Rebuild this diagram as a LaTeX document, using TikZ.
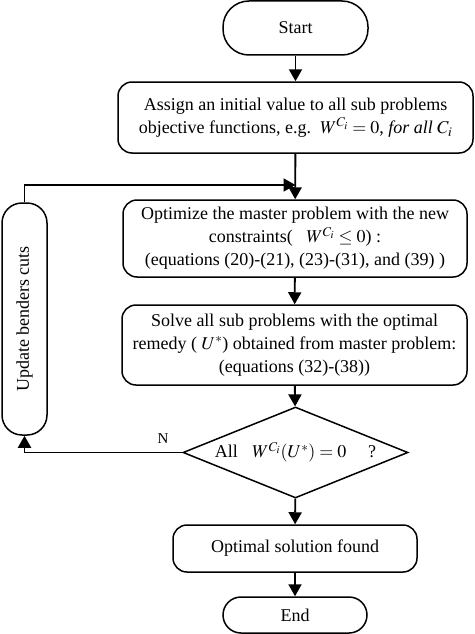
\documentclass[tikz,border=0pt]{standalone}
\usepackage{mathptmx}
\usepackage{fontspec}
\setmainfont{Liberation Serif}
\usetikzlibrary{arrows.meta,shapes.geometric}
\tikzset{
  box/.style={draw, line width=1.5pt, rounded corners=14pt, align=center, inner sep=0pt, font=\fontsize{18}{23}\selectfont},
  term/.style={box, rounded corners=18pt},
  arr/.style={line width=1.9pt, -{Triangle[width=13pt,length=12pt]}},
}
\begin{document}
\begin{tikzpicture}[x=1pt,y=-1pt]
\useasboundingbox (0,0) rectangle (474,634);
\node[term, rounded corners=26pt, minimum width=145pt, minimum height=54pt] (start) at (295.5,28) {Start};
\node[box, minimum width=355pt, minimum height=71pt] (assign) at (295.5,117.5)
  {Assign an initial value to all sub problems\\
   objective functions, e.g.\ \ $W^{C_i}=0$, \textit{for all} $C_i$};
\node[box, minimum width=344pt, minimum height=77pt] (opt) at (295,238.5)
  {Optimize the master problem with the new\\
   constraints(\enspace\ $W^{C_i}\le 0$) :\\
   (equations (20)-(21), (23)-(31), and (39) )};
\node[box, minimum width=345pt, minimum height=80pt] (solve) at (294.5,345)
  {Solve all sub problems with the optimal\\
   remedy ( $U^*$) obtained from master problem:\\
   (equations (32)-(38))};
\node[draw, line width=1.5pt, shape=diamond, aspect=2.47, minimum width=225pt, minimum height=91pt, inner sep=0pt, font=\fontsize{18}{21}\selectfont] (dia) at (295.5,452.5)
  {All\hspace{0.8em}$W^{C_i}(U^*)=0$\hspace{1.2em}?};
\node[box, minimum width=244pt, minimum height=47pt] (found) at (295,548.5) {Optimal solution found};
\node[term, minimum width=144pt, minimum height=36pt] (end) at (295,615) {End};
\node[box, rounded corners=20pt, minimum width=232pt, minimum height=45pt, rotate=90] (upd) at (24.5,319) {Update benders cuts};
\node[font=\fontsize{15}{18}\selectfont, inner sep=0pt] (n) at (163,439) {N};
\coordinate (join) at (295.5,185);
\draw[arr] (start) -- (assign);
\draw[arr] (assign) -- (opt);
\draw[arr] (opt) -- (solve);
\draw[arr] (solve) -- (dia);
\draw[arr] (dia) -- (found);
\draw[arr] (found) -- (end);
\draw[arr] (dia.west) -| (upd.west);
\draw[arr] (upd.east) |- (join);
\end{tikzpicture}
\end{document}
